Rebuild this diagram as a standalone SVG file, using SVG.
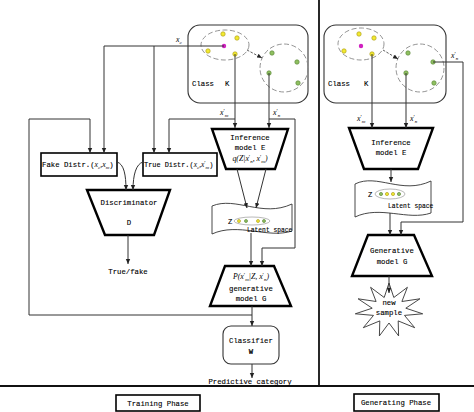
<svg xmlns="http://www.w3.org/2000/svg" width="474" height="412" viewBox="0 0 474 412">
<defs>
<marker id="ah" markerUnits="userSpaceOnUse" markerWidth="6" markerHeight="6" refX="5" refY="3" orient="auto">
<path d="M0,0.8 L5,3 L0,5.2 Z" fill="#222"/>
</marker>
</defs>
<style>
.t{font-family:"Liberation Mono","DejaVu Sans Mono",monospace;font-size:7.3px;fill:#000;stroke:#000;stroke-width:0.12}
.m{font-family:"Liberation Serif","DejaVu Serif",serif;font-style:italic;font-size:7.8px;fill:#000;stroke:none}
.s{font-size:5px}
.pr{font-size:6px;font-style:normal}
.c{fill:none;stroke:#333;stroke-width:1}
.a{marker-end:url(#ah)}
.d{fill:none;stroke:#333;stroke-width:0.8;stroke-dasharray:2.5 1.5}
.trap{fill:#fff;stroke:#000;stroke-width:2.4;stroke-linejoin:miter}
.box{fill:#fff;stroke:#000;stroke-width:1.6}
.cls{fill:#fff;stroke:#333;stroke-width:1.1}
.ell{fill:none;stroke:#888;stroke-width:0.9;stroke-dasharray:5 2.5}
.y{fill:#f2ea30;stroke:#b0a020;stroke-width:0.7}
.g{fill:#8fc060;stroke:#5e8a3c;stroke-width:0.7}
.p{fill:#d020c0}
.lat{fill:#fff;stroke:#333;stroke-width:0.9}
.frame{stroke:#111;stroke-width:1.8}
</style>

<!-- frame -->
<g id="frame">
<line class="frame" x1="319" y1="0" x2="319" y2="386"/>
<line class="frame" x1="0" y1="386" x2="474" y2="386"/>
</g>

<!-- Training phase -->
<g id="classK-train">
<rect class="cls" x="188" y="25" width="120" height="78" rx="12"/>
<ellipse class="ell" cx="225" cy="45" rx="24" ry="15"/>
<circle class="ell" cx="284" cy="68" r="24"/>
<circle class="y" cx="223" cy="34" r="2.2"/>
<circle class="y" cx="237" cy="38" r="2.2"/>
<circle class="y" cx="208" cy="51" r="2.2"/>
<circle class="y" cx="235" cy="54" r="2.2"/>
<circle class="p" cx="224" cy="46" r="2.2"/>
<circle class="g" cx="272" cy="53" r="2.2"/>
<circle class="g" cx="297" cy="62" r="2.2"/>
<circle class="g" cx="269" cy="73" r="2.2"/>
<circle class="g" cx="298" cy="83" r="2.2"/>
<text class="t" x="192" y="86">Class</text>
<text class="t" x="225" y="86">K</text>
</g>

<g id="fake">
<rect class="box" x="41" y="153" width="76" height="23"/>
<text class="t" x="42" y="167">Fake Distr.(<tspan class="m">x<tspan class="s" dy="1.5">c</tspan><tspan dy="-1.5">,x</tspan><tspan class="s" dy="1.5">m</tspan></tspan><tspan dy="-1.5">)</tspan></text>
</g>

<g id="true">
<rect class="box" x="143" y="153" width="74" height="23"/>
<text class="t" x="144" y="167" style="font-size:6.9px">True Distr.(<tspan class="m" style="font-size:7.4px">x<tspan class="s" dy="1.5">c</tspan><tspan dy="-1.5">,x</tspan><tspan class="pr" dy="-2">′</tspan><tspan class="s" dy="3.5">m</tspan></tspan><tspan dy="-1.5">)</tspan></text>
</g>

<g id="discriminator">
<polygon class="trap" points="87,190 170,190 154,235 105,235"/>
<text class="t" x="129" y="205" text-anchor="middle">Discriminator</text>
<text class="t" x="129" y="225" text-anchor="middle">D</text>
</g>
<text class="t" id="truefake" x="128" y="274" text-anchor="middle">True/fake</text>

<g id="inferenceE-train">
<polygon class="trap" points="212,129 288,129 275,169 226,169"/>
<text class="t" x="250" y="140" text-anchor="middle">Inference</text>
<text class="t" x="250" y="150" text-anchor="middle">model  E</text>
<text class="m" x="250" y="161" text-anchor="middle">q(Z|x<tspan class="pr" dy="-2">′</tspan><tspan class="s" dy="3.5">n</tspan><tspan dy="-1.5">, x</tspan><tspan class="pr" dy="-2">′</tspan><tspan class="s" dy="3.5">m</tspan><tspan dy="-1.5">)</tspan></text>
</g>

<g id="latent-train">
<path class="lat" d="M212,206 C236,196 262,218 292,204 L292,231 C268,239 238,222 212,234 Z"/>
<ellipse cx="252" cy="221" rx="18" ry="4" fill="#fff" stroke="#999" stroke-width="0.7"/>
<circle class="y" cx="239" cy="221" r="1.5"/>
<circle class="g" cx="246" cy="221" r="1.5"/>
<circle class="y" cx="258" cy="221" r="1.5"/>
<circle class="g" cx="264" cy="221" r="1.5"/>
<text class="t" x="228" y="224">Z</text>
<text class="t" x="247" y="232" style="font-size:6.3px">Latent space</text>
</g>

<g id="generativeG-train">
<polygon class="trap" points="225,266 274,266 291,306 210,306"/>
<text class="m" x="251" y="279" text-anchor="middle">P(x<tspan class="pr" dy="-2">′</tspan><tspan class="s" dy="3.5">m</tspan><tspan dy="-1.5">|Z, x</tspan><tspan class="pr" dy="-2">′</tspan><tspan class="s" dy="3.5">n</tspan><tspan dy="-1.5">)</tspan></text>
<text class="t" x="251" y="291" text-anchor="middle">generative</text>
<text class="t" x="251" y="301" text-anchor="middle">model  G</text>
</g>

<g id="classifierW">
<rect class="cls" x="223" y="326" width="56" height="38" rx="8"/>
<text class="t" x="251" y="343" text-anchor="middle">Classifier</text>
<text class="t" x="251" y="354" text-anchor="middle" font-weight="bold">W</text>
</g>
<text class="t" id="predcat" x="250" y="384" text-anchor="middle">Predictive category</text>

<g id="training-label">
<rect class="box" x="116" y="395" width="84" height="16"/>
<text class="t" x="158" y="406" text-anchor="middle">Training Phase</text>
</g>

<!-- Generating phase -->
<g id="classK-gen">
<rect class="cls" x="324" y="25" width="122" height="78" rx="12"/>
<ellipse class="ell" cx="361" cy="44" rx="23" ry="16"/>
<circle class="ell" cx="420" cy="68" r="24"/>
<circle class="y" cx="359" cy="34" r="2.2"/>
<circle class="y" cx="374" cy="38" r="2.2"/>
<circle class="y" cx="344" cy="51" r="2.2"/>
<circle class="y" cx="372" cy="54" r="2.2"/>
<circle class="p" cx="361" cy="46" r="2.2"/>
<circle class="g" cx="408" cy="53" r="2.2"/>
<circle class="g" cx="433" cy="62" r="2.2"/>
<circle class="g" cx="406" cy="73" r="2.2"/>
<circle class="g" cx="434" cy="83" r="2.2"/>
<text class="t" x="328" y="86">Class</text>
<text class="t" x="364" y="86">K</text>
</g>

<g id="inferenceE-gen">
<polygon class="trap" points="349,128 433,128 418,169 364,169"/>
<text class="t" x="391" y="145" text-anchor="middle">Inference</text>
<text class="t" x="391" y="155" text-anchor="middle">model  E</text>
</g>

<g id="latent-gen">
<path class="lat" d="M355,184 C377,173 402,195 431,181 L431,213 C408,221 380,205 355,217 Z"/>
<ellipse cx="390" cy="194" rx="15" ry="5" fill="#fff" stroke="#999" stroke-width="0.7"/>
<circle class="g" cx="381" cy="194" r="1.6"/>
<circle class="y" cx="387" cy="194" r="1.6"/>
<circle class="y" cx="393" cy="194" r="1.6"/>
<circle class="g" cx="399" cy="194" r="1.6"/>
<text class="t" x="368" y="197">Z</text>
<text class="t" x="388" y="208" style="font-size:6.3px">Latent space</text>
</g>

<g id="generativeG-gen">
<polygon class="trap" points="368,235 414,235 432,276 352,276"/>
<text class="t" x="392" y="253" text-anchor="middle">Generative</text>
<text class="t" x="392" y="264" text-anchor="middle">model  G</text>
</g>

<g id="newsample">
<polygon fill="#fff" stroke="#333" stroke-width="0.9" points="389,283 393.8,297.5 407.4,287.3 401.9,301.5 419.9,298.8 405.8,308.2 422.7,313.8 404.5,315.4 414.7,327.7 398.2,320.9 398.6,335.9 389,323 379.4,335.9 379.8,320.9 363.3,327.7 373.5,315.4 355.3,313.8 372.2,308.2 358.1,298.8 376.1,301.5 370.6,287.3 384.2,297.5"/>
<text class="t" x="389" y="305" text-anchor="middle">new</text>
<text class="t" x="389" y="315" text-anchor="middle">sample</text>
</g>

<g id="generating-label">
<rect class="box" x="354" y="394" width="85" height="17"/>
<text class="t" x="396" y="405" text-anchor="middle">Generating Phase</text>
</g>

<!-- connectors -->
<g id="connectors">
<path class="c a" d="M224,46 H104 V153"/>
<path class="c a" d="M154,46 V153"/>
<path class="c a" d="M235,54 V128"/>
<path class="c a" d="M235,119 H169 V153"/>
<path class="c a" d="M269,73 V128"/>
<path class="c a" d="M269,119 H295 V248 H262 V266"/>
<path class="c a" d="M237,169 L247,208"/>
<path class="c a" d="M266,169 L256,208"/>
<path class="c a" d="M251,233 V266"/>
<path class="c a" d="M252,306 V326"/>
<path class="c a" d="M252,315 H29 V119 H90 V153"/>
<path class="c a" d="M117,162 C124,164 126,175 126,190"/>
<path class="c a" d="M143,162 C136,164 133,175 133,190"/>
<path class="c a" d="M128,235 V264"/>
<path class="c a" d="M252,364 V378"/>
<path class="d a" d="M247,50 L262,58"/>
<path class="c a" d="M372,54 V128"/>
<path class="c a" d="M406,73 V128"/>
<path class="c a" d="M433,62 H463 V222 H401 V235"/>
<path class="c a" d="M391,169 V182"/>
<path class="c a" d="M390,213 V235"/>
<path class="c a" d="M389,276 V293"/>
<path class="d a" d="M383,50 L398,59"/>
</g>

<g id="labels">
<text class="m" x="176" y="42">x<tspan class="s" dy="1.5">c</tspan></text>
<text class="m" x="220" y="115">x<tspan class="pr" dy="-2">′</tspan><tspan class="s" dy="3.5">m</tspan></text>
<text class="m" x="273" y="115">x<tspan class="pr" dy="-2">′</tspan><tspan class="s" dy="3.5">n</tspan></text>
<text class="m" x="357" y="121">x<tspan class="pr" dy="-2">′</tspan><tspan class="s" dy="3.5">m</tspan></text>
<text class="m" x="410" y="121">x<tspan class="pr" dy="-2">′</tspan><tspan class="s" dy="3.5">n</tspan></text>
<text class="m" x="451" y="58">x<tspan class="pr" dy="-2">′</tspan><tspan class="s" dy="3.5">n</tspan></text>
</g>
</svg>
